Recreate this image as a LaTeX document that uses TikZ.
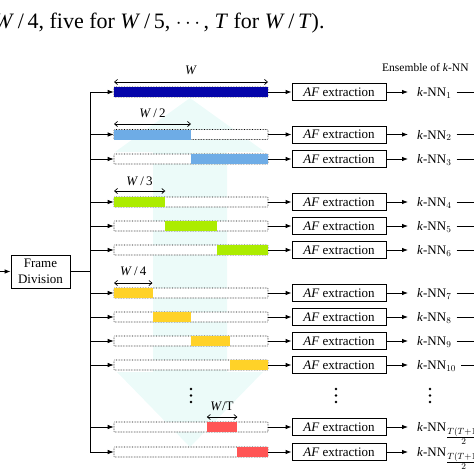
\documentclass[tikz,border=0pt]{standalone}
\usepackage{amsmath}
\usepackage{fontspec}
\setmainfont{Liberation Serif}
\usetikzlibrary{arrows.meta,calc}
\definecolor{navyseg}{RGB}{5,5,170}
\definecolor{lblue}{RGB}{110,172,230}
\definecolor{limeseg}{RGB}{172,236,0}
\definecolor{yellowseg}{RGB}{255,210,40}
\definecolor{redseg}{RGB}{255,85,85}
\definecolor{palebg}{RGB}{236,251,249}
\tikzset{
  lbl/.style={font=\fontsize{13}{16}\selectfont},
  barbox/.style={draw, densely dotted, line width=0.6pt, fill=white, minimum width=154pt, minimum height=10pt, inner sep=0pt, rounded corners=0.8pt},
  afbox/.style={draw, line width=0.8pt, minimum width=94pt, minimum height=17pt, inner sep=0pt, lbl},
  arr/.style={line width=0.8pt, -{Latex[length=6pt,width=4.5pt]}},
  dimarr/.style={line width=0.7pt, {Straight Barb[length=3pt,width=5pt]}-{Straight Barb[length=3pt,width=5pt]}},
  dimlbl/.style={font=\fontsize{13}{15}\selectfont, inner sep=0pt},
  knn/.style={lbl, inner sep=0pt, anchor=base west},
  dotc/.style={fill=black}
}
\begin{document}
\begin{tikzpicture}[x=1pt,y=-1pt]
\useasboundingbox (0,0) rectangle (474,474);
\clip (0,0) rectangle (474,474);
% background double arrow
\fill[palebg] (190,98) -- (265,152) -- (227,152) -- (227,372) -- (263,372) -- (190,447) -- (117,372) -- (153,372) -- (153,152) -- (115,152) -- cycle;
% caption line
\node[anchor=base west, inner sep=0pt, font=\fontsize{22}{24}\selectfont] (cap) at (-6,28) {\textit{W}\,/\,4, five for \textit{W}\,/\,5, $\cdots$, \textit{T} for \textit{W}\,/\,\textit{T}).};
% header
\node[anchor=base west, inner sep=0pt, font=\fontsize{11.5}{13}\selectfont] (ens) at (382,71) {Ensemble of \textit{k}-NN};
% frame division
\coordinate (in) at (0,271.5);
\node[draw, line width=0.8pt, minimum width=59pt, minimum height=33pt, align=center, inner sep=0pt, lbl] (fd) at (40.5,271.5) {Frame\\Division};
\draw[arr] (in) -- (fd);
% rows
\foreach \i/\y/\sa/\sb/\c in {1/92/114/268/navyseg, 2/134.5/114/191/lblue, 3/159/191/268/lblue, 4/202/114/165.3/limeseg, 5/226/165.3/216.7/limeseg, 6/250/216.7/268/limeseg, 7/293/114/152.5/yellowseg, 8/317/152.5/191/yellowseg, 9/341/191/229.5/yellowseg, 10/365/229.5/268/yellowseg, 11/427/206.8/237.4/redseg, 12/452/237.4/268/redseg} {
  \node[barbox] (b\i) at (191,\y) {};
  \fill[\c] (\sa,\y-5) rectangle (\sb,\y+5);
  \coordinate (t\i) at (90,\y);
  \coordinate (e\i) at (474,\y);
  \node[afbox] (a\i) at (339,\y) {\textit{AF} extraction};
  \draw[arr] (t\i) -- (b\i);
  \draw[arr] (b\i) -- (a\i);
}
\fill[navyseg] (113.7,87) rectangle (268.3,97);
% trunk
\draw[line width=0.8pt] (t1) -- (t12);
\draw[line width=0.8pt] (fd.east) -- (fd.east -| t1);
% k-NN labels
\foreach \i/\y/\s in {1/92/1, 2/134.5/2, 3/159/3, 4/202/4, 5/226/5, 6/250/6, 7/293/7, 8/317/8, 9/341/9, 10/365/10} {
  \node[knn] (k\i) at (417,\y+4.5) {\textit{k}-NN$_{\s}$};
  \draw[arr, shorten >=9pt] (a\i.east) -- (a\i.east -| k\i.west);
  \draw[line width=0.8pt] ($(k\i.east |- e\i)+(5,0)$) -- (e\i);
}
\node[knn] (k11) at (417,431.5) {\textit{k}-NN$_{\genfrac{}{}{}{1}{T(T+1)}{2}-1}$};
\node[knn] (k12) at (417,456.5) {\textit{k}-NN$_{\genfrac{}{}{}{1}{T(T+1)}{2}}$};
\draw[arr, shorten >=9pt] (a11.east) -- (a11.east -| k11.west);
\draw[arr, shorten >=9pt] (a12.east) -- (a12.east -| k12.west);
% dimension arrows
\draw[dimarr] (114,82) -- (268,82);
\node[dimlbl] (lw) at (191,70) {\textit{W}};
\draw[dimarr] (114,124) -- (191,124);
\node[dimlbl] (lw2) at (152.5,113) {\textit{W}\,/\,2};
\draw[dimarr] (114,191) -- (165.3,191);
\node[dimlbl] (lw3) at (139.6,181) {\textit{W}\,/\,3};
\draw[dimarr] (114,283) -- (152.5,283);
\node[dimlbl] (lw4) at (133.2,271) {\textit{W}\,/\,4};
\draw[dimarr] (206.8,417) -- (237.4,417);
\node[dimlbl] (lwt) at (222,406) {\textit{W}/T};
% vertical dots
\foreach \x in {191,336,430} {
  \fill[dotc] (\x,389) circle (1.4pt);
  \fill[dotc] (\x,395.5) circle (1.4pt);
  \fill[dotc] (\x,402) circle (1.4pt);
}
\end{tikzpicture}
\end{document}
